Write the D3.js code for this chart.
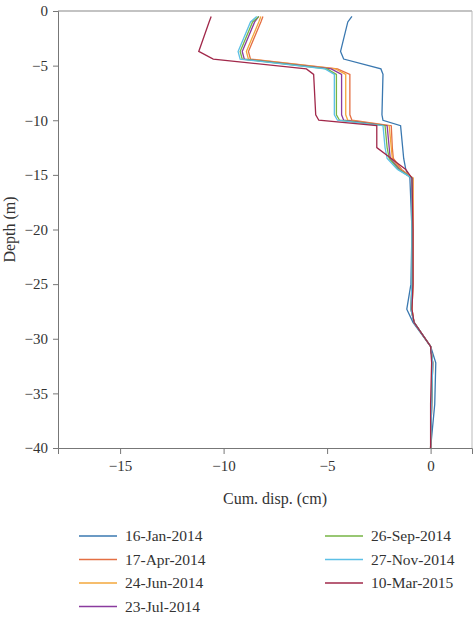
<!DOCTYPE html>
<html>
<head>
<meta charset="utf-8">
<script src="https://cdn.jsdelivr.net/npm/d3@7"></script>
<style>
body { margin: 0; background: #fff; }
text { font-family: "Liberation Serif", serif; fill: #333; }
</style>
</head>
<body>
<svg id="chart" width="474" height="620"></svg>
<script>
// Depth points shared by all series (m)
var depths = [-0.5, -1, -3.7, -4.4, -5.3, -5.8, -9.5, -10.0, -10.5, -12.5, -13.5, -14.5, -15.3, -20, -25, -27.3, -28.5, -30.7, -32.2, -36, -40];

var names = ["16-Jan-2014", "17-Apr-2014", "24-Jun-2014", "23-Jul-2014", "26-Sep-2014", "27-Nov-2014", "10-Mar-2015"];
var colors = ["#3a78b0", "#e46f43", "#f3a73b", "#8a3b9e", "#76b444", "#5cc0e6", "#a1284a"];

var jan = [-3.8, -4.0, -4.35, -4.2, -2.4, -2.3, -2.35, -2.3, -1.45, -1.35, -1.3, -1.2, -1.0, -0.9, -0.95, -1.15, -0.85, 0, 0.25, 0.2, 0];
var apr = [-8.1, -8.2, -8.8, -8.7, -4.5, -3.9, -3.9, -3.8, -1.9, -1.85, -1.8, -1.4, -0.85, -0.85, -0.85, -0.9, -0.8, 0, 0.1, 0.05, 0];
var jun = [-8.2, -8.3, -8.9, -8.8, -4.6, -4.1, -4.1, -4.0, -2.0, -1.9, -1.85, -1.45, -0.85, -0.85, -0.85, -0.9, -0.8, 0, 0.1, 0.05, 0];
var jul = [-8.3, -8.5, -9.1, -9.0, -4.8, -4.3, -4.3, -4.2, -2.1, -2.0, -1.95, -1.5, -0.9, -0.9, -0.9, -0.95, -0.8, 0, 0.1, 0.05, 0];
var sep = [-8.3, -8.6, -9.2, -9.1, -5.0, -4.55, -4.55, -4.4, -2.2, -2.1, -2.0, -1.55, -0.9, -0.9, -0.9, -0.95, -0.8, 0, 0.1, 0.05, 0];
var nov = [-8.4, -8.7, -9.3, -9.2, -5.1, -4.65, -4.65, -4.5, -2.3, -2.2, -2.1, -1.6, -0.9, -0.9, -0.9, -0.95, -0.8, 0, 0.1, 0.05, 0];
var mar = [-10.6, -10.7, -11.2, -10.5, -6.0, -5.65, -5.55, -5.4, -2.6, -2.6, -1.9, -1.2, -0.9, -0.85, -0.85, -0.9, -0.8, 0, 0.05, 0, 0];
var series = [jan, apr, jun, jul, sep, nov, mar];

var xTicks = [-15, -10, -5, 0];
var yTicks = [0, -5, -10, -15, -20, -25, -30, -35, -40];

var svg = d3.select("#chart");
var mLeft = 58, mRight = 472, mTop = 11, mBottom = 448;

var x = d3.scaleLinear().domain([-18, 2]).range([mLeft, mRight]);
var y = d3.scaleLinear().domain([0, -40]).range([mTop, mBottom]);

// frame (top and right)
svg.append("line").attr("x1", mLeft).attr("x2", mRight).attr("y1", mTop).attr("y2", mTop)
  .attr("stroke", "#888").attr("stroke-width", 1.2);
svg.append("line").attr("x1", mRight).attr("x2", mRight).attr("y1", mTop).attr("y2", mBottom)
  .attr("stroke", "#bbb").attr("stroke-width", 1);

// axes
var fmt = function (d) { return d < 0 ? "\u2212" + Math.abs(d) : d; };
var xAxis = svg.append("g").attr("transform", "translate(0," + mBottom + ")")
  .call(d3.axisBottom(x).tickValues(xTicks).tickSize(6).tickPadding(6).tickFormat(fmt));
var yAxis = svg.append("g").attr("transform", "translate(" + mLeft + ",0)")
  .call(d3.axisLeft(y).tickValues(yTicks).tickSize(5).tickPadding(5).tickFormat(fmt));
[xAxis, yAxis].forEach(function (a) {
  a.select(".domain").attr("stroke", "#777");
  a.selectAll(".tick line").attr("stroke", "#777");
  a.selectAll("text").style("font-family", "Liberation Serif").style("font-size", "15px").attr("fill", "#333");
});

// curves
var line = d3.line()
  .x(function (d) { return x(d.v); })
  .y(function (d) { return y(d.d); });

series.forEach(function (vals, i) {
  var pts = vals.map(function (v, j) { return { v: v, d: depths[j] }; });
  svg.append("path").datum(pts).attr("d", line)
    .attr("fill", "none").attr("stroke", colors[i]).attr("stroke-width", 1.3);
});

// axis titles
svg.append("text").attr("x", 275).attr("y", 504).attr("text-anchor", "middle")
  .style("font-size", "16px").text("Cum. disp. (cm)");
svg.append("text").attr("transform", "translate(15," + ((mTop + mBottom) / 2) + ") rotate(-90)")
  .attr("text-anchor", "middle").style("font-size", "16px").text("Depth (m)");

// legend
names.forEach(function (n, i) {
  var col = i < 4 ? 0 : 1;
  var row = i < 4 ? i : i - 4;
  var lx = col === 0 ? 79 : 325;
  var ly = 536 + row * 23.5;
  svg.append("line").attr("x1", lx).attr("x2", lx + 38).attr("y1", ly).attr("y2", ly)
    .attr("stroke", colors[i]).attr("stroke-width", 1.5);
  svg.append("text").attr("x", lx + 46).attr("y", ly + 5).style("font-size", "15.5px").text(n);
});
</script>
</body>
</html>
